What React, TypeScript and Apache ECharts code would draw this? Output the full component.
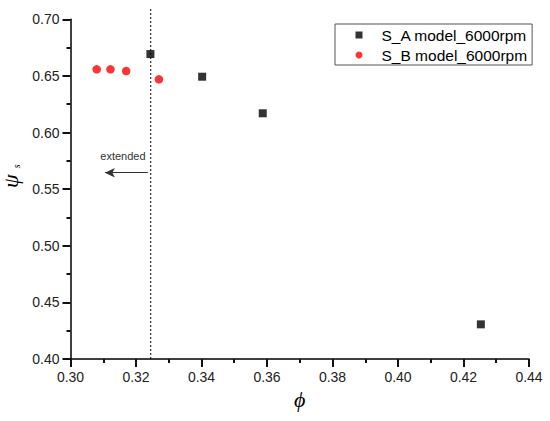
import React, { useEffect, useRef } from "react";
import * as echarts from "echarts";

const seriesNames = ["S_A model_6000rpm", "S_B model_6000rpm"];
const seriesA: number[][] = [
  [0.3244, 0.6693],
  [0.3402, 0.6493],
  [0.3587, 0.617],
  [0.4253, 0.4306],
];
const seriesB: number[][] = [
  [0.308, 0.6558],
  [0.3122, 0.6558],
  [0.317, 0.6543],
  [0.327, 0.647],
];
const boundaryX = 0.3245;
const boundaryYRange = [0.4, 0.709];
const arrowY = 0.5645;
const arrowXRange = [0.3105, 0.3236];
const annotationText = "extended";
const annotationPos = [0.316, 0.5795];
const xRange = [0.3, 0.44];
const yRange = [0.4, 0.7];

function makeAxisParts() {
  return {
    axisLine: { show: true, onZero: false, lineStyle: { color: "#000", width: 1.5 } },
    axisTick: { show: true, length: 8, lineStyle: { color: "#111", width: 2 } },
    minorTick: { show: true, splitNumber: 2, length: 4, lineStyle: { color: "#111", width: 2 } },
    splitLine: { show: false },
    axisLabel: {
      color: "#222",
      fontSize: 14,
      fontFamily: "Liberation Sans, Arial, sans-serif",
      margin: 11,
      formatter: (v: number) => v.toFixed(2),
    },
  };
}

export default function App() {
  const ref = useRef<HTMLDivElement>(null);
  useEffect(() => {
    if (!ref.current) return;
    const chart = echarts.init(ref.current, undefined, { renderer: "svg" });
    chart.setOption({
      animation: false,
      backgroundColor: "#fff",
      grid: [
        { left: 70.5, right: 21, top: 19.3, bottom: 62, containLabel: false, outerBoundsMode: "none" },
        { left: 70.5, right: 21, top: 9, bottom: 62, containLabel: false, outerBoundsMode: "none" },
      ],
      legend: {
        orient: "vertical",
        left: 335,
        top: 24,
        padding: [3, 5, 2, 20.5],
        itemGap: 4,
        itemWidth: 7,
        itemHeight: 7,
        borderColor: "#555",
        borderWidth: 1,
        textStyle: {
          color: "#000",
          fontSize: 15.5,
          fontFamily: "Liberation Sans, Arial, sans-serif",
          padding: [0, 0, 0, 14],
        },
        data: [
          { name: seriesNames[0], icon: "rect" },
          { name: seriesNames[1], icon: "circle" },
        ],
      },
      xAxis: [
        {
          type: "value",
          gridIndex: 0,
          min: xRange[0],
          max: xRange[1],
          interval: 0.02,
          name: "ϕ",
          nameLocation: "middle",
          nameGap: 28,
          nameTextStyle: {
            fontSize: 22,
            fontStyle: "italic",
            fontFamily: "Liberation Serif, Times New Roman, serif",
            color: "#000",
          },
          ...makeAxisParts(),
        },
        {
          type: "value",
          gridIndex: 1,
          min: xRange[0],
          max: xRange[1],
          show: false,
        },
      ],
      yAxis: [
        {
          type: "value",
          gridIndex: 0,
          min: yRange[0],
          max: yRange[1],
          interval: 0.05,
          name: "{a|ψ}{b|s}",
          nameLocation: "middle",
          nameRotate: 90,
          nameGap: 42,
          nameTextStyle: {
            padding: [0, 0, 0, 26],
            rich: {
              a: {
                fontSize: 22,
                fontStyle: "italic",
                fontFamily: "Liberation Serif, Times New Roman, serif",
                color: "#000",
              },
              b: {
                fontSize: 10,
                fontStyle: "italic",
                fontFamily: "Liberation Serif, Times New Roman, serif",
                color: "#000",
                verticalAlign: "bottom",
                padding: [0, 0, 0, 6],
              },
            },
          },
          ...makeAxisParts(),
        },
        {
          type: "value",
          gridIndex: 1,
          min: boundaryYRange[0],
          max: boundaryYRange[1],
          show: false,
        },
      ],
      series: [
        {
          name: seriesNames[0],
          type: "scatter",
          xAxisIndex: 0,
          yAxisIndex: 0,
          symbol: "rect",
          symbolSize: 8,
          itemStyle: { color: "#000" },
          data: seriesA,
          markLine: {
            silent: true,
            symbol: ["arrow", "none"],
            symbolSize: [7, 10],
            lineStyle: { color: "#333", width: 1, type: "solid" },
            label: { show: false },
            data: [
              [
                { coord: [arrowXRange[0], arrowY] },
                { coord: [arrowXRange[1], arrowY] },
              ],
            ],
          },
          markPoint: {
            silent: true,
            symbol: "circle",
            symbolSize: 0,
            label: {
              show: true,
              position: "inside",
              formatter: annotationText,
              color: "#333",
              fontSize: 11,
              fontFamily: "Liberation Sans, Arial, sans-serif",
            },
            data: [{ coord: annotationPos }],
          },
        },
        {
          name: seriesNames[1],
          type: "scatter",
          xAxisIndex: 0,
          yAxisIndex: 0,
          symbol: "circle",
          symbolSize: 8.5,
          itemStyle: { color: "#ff0000" },
          data: seriesB,
        },
        {
          name: "boundary",
          type: "line",
          xAxisIndex: 1,
          yAxisIndex: 1,
          symbol: "none",
          silent: true,
          lineStyle: { color: "#000", width: 1, type: [2, 2] },
          data: [
            [boundaryX, boundaryYRange[0]],
            [boundaryX, boundaryYRange[1]],
          ],
        },
      ],
    });
    return () => chart.dispose();
  }, []);
  return (
    <div
      ref={ref}
      style={{ position: "fixed", left: 0, top: 0, width: 550, height: 421 }}
    />
  );
}
